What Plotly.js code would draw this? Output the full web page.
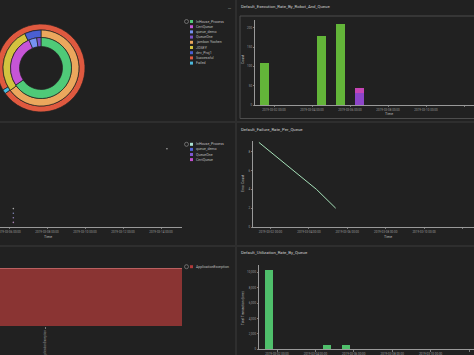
<!DOCTYPE html>
<html><head><meta charset="utf-8">
<script src="https://cdn.plot.ly/plotly-3.0.1.min.js"></script>
<style>
html,body{margin:0;padding:0;background:#212121;overflow:hidden;width:474px;height:355px;position:relative}
#chart{position:absolute;left:-20px;top:0;width:494px;height:355px}
</style>
</head><body><div id="chart"></div>
<script>
// ---------------- DATA ----------------
const pieQueueLabels = ['InHouse_Process','CertQueue','queue_demo','QueueOne'];
const pieQueueValues = [1310, 560, 83, 45];
const pieRobotLabels = ['jambon Yochen','JOSEY','dev_Proj1'];
const pieRobotValues = [1300, 560, 140];
const pieStatusLabels = ['Successful','Failed'];
const pieStatusValues = [1970, 30];

const scatterInHouseDates = ['2019-03-06 05:30','2019-03-14 07:30'];
const scatterInHouseValues = [20, 85];
const scatterQueueDemoDates = ['2019-03-06 05:30'];
const scatterQueueDemoValues = [15];
const scatterQueueOneDates = ['2019-03-06 05:30'];
const scatterQueueOneValues = [10];
const scatterCertQueueDates = ['2019-03-06 05:30'];
const scatterCertQueueValues = [5];

const exceptionCategories = ['System.ApplicationException'];
const exceptionCounts = [9];

const execInHouseDates = ['2019-03-01 12:00','2019-03-04 12:00','2019-03-05 12:00'];
const execInHouseValues = [110, 178, 210];
const execQueueOneDates = ['2019-03-06 12:00'];
const execQueueOneValues = [30];
const execCertQueueDates = ['2019-03-06 12:00'];
const execCertQueueValues = [15];

const failureDates = ['2019-03-01 09:30','2019-03-04 09:30','2019-03-05 09:30'];
const failureCounts = [9, 4, 2];

const utilDates = ['2019-03-01 14:00','2019-03-04 14:00','2019-03-05 14:00'];
const utilValues = [10250, 600, 600];

// ---------------- GEOMETRY HELPERS ----------------
const OX = 20, FW = 494, FH = 355;
const fx = p => (p + OX) / FW;
const fy = p => 1 - p / FH;
const DAY = 86400000;
function dRange(anchor, anchorPx, pxPerDay, leftPx, rightPx) {
  const t0 = Date.parse(anchor + 'T00:00:00Z');
  return [t0 + (leftPx - anchorPx) / pxPerDay * DAY, t0 + (rightPx - anchorPx) / pxPerDay * DAY];
}
const FONT = 'Roboto, "DejaVu Sans", sans-serif';
const tickFont = {family: FONT, size: 3, color: '#9c9c9c'};
function dateAxis(domain, range, anchor) {
  return {domain, range, anchor, type: 'date', tickformat: '%Y-%m-%d %H:%M', tick0: '2019-03-02', dtick: 2 * DAY,
    showgrid: false, zeroline: false, showline: true, linecolor: '#b8b8b8', linewidth: 0.8,
    ticks: 'outside', ticklen: 1.5, tickwidth: 0.6, tickcolor: '#b8b8b8', tickfont: tickFont,
    automargin: false, fixedrange: true};
}
function linAxis(domain, range, dtick, anchor, extra) {
  return Object.assign({domain, range, dtick, anchor, showgrid: false, zeroline: false, showline: true,
    linecolor: '#b8b8b8', linewidth: 0.8, ticks: 'outside', ticklen: 1.5, tickwidth: 0.6,
    tickcolor: '#b8b8b8', tickfont: tickFont, automargin: false, fixedrange: true}, extra || {});
}

// ---------------- TRACES ----------------
const pc = {cx: 41, cy: 68, r1: 44, r2: 38, r3: 30.5, hole: 21.5};
function pieDomain(r) { return {x: [fx(pc.cx - r), fx(pc.cx + r)], y: [fy(pc.cy + r), fy(pc.cy - r)]}; }
const pieLine = {color: '#212121', width: 0.7};
const traces = [
  {type: 'pie', labels: pieStatusLabels, values: pieStatusValues, domain: pieDomain(pc.r1), hole: pc.r2 / pc.r1,
   sort: false, direction: 'clockwise', rotation: 240, textinfo: 'none', hoverinfo: 'skip',
   marker: {colors: ['#df593f', '#4cb9dd'], line: pieLine}},
  {type: 'pie', labels: pieRobotLabels, values: pieRobotValues, domain: pieDomain(pc.r2), hole: pc.r3 / pc.r2,
   sort: false, direction: 'clockwise', rotation: 0, textinfo: 'none', hoverinfo: 'skip',
   marker: {colors: ['#eba75d', '#d3c33f', '#4a5fd2'], line: pieLine}},
  {type: 'pie', labels: pieQueueLabels, values: pieQueueValues, domain: pieDomain(pc.r3), hole: pc.hole / pc.r3,
   sort: false, direction: 'clockwise', rotation: 0, textinfo: 'none', hoverinfo: 'skip',
   marker: {colors: ['#4fca78', '#c655d6', '#7692f2', '#7a52c9'], line: pieLine}},

  {type: 'scatter', mode: 'markers', x: scatterInHouseDates, y: scatterInHouseValues, xaxis: 'x', yaxis: 'y',
   marker: {size: 1.6, color: '#a9a9a9'}},
  {type: 'scatter', mode: 'markers', x: scatterQueueDemoDates, y: scatterQueueDemoValues, xaxis: 'x', yaxis: 'y',
   marker: {size: 1.6, color: '#8088b8'}},
  {type: 'scatter', mode: 'markers', x: scatterQueueOneDates, y: scatterQueueOneValues, xaxis: 'x', yaxis: 'y',
   marker: {size: 1.6, color: '#9080b8'}},
  {type: 'scatter', mode: 'markers', x: scatterCertQueueDates, y: scatterCertQueueValues, xaxis: 'x', yaxis: 'y',
   marker: {size: 1.6, color: '#a880b0'}},

  {type: 'bar', x: exceptionCategories, y: exceptionCounts, xaxis: 'x2', yaxis: 'y2', width: 1.4,
   marker: {color: '#8a3433', line: {color: '#c46b6b', width: 0.8}}},

  {type: 'bar', x: execInHouseDates, y: execInHouseValues, xaxis: 'x3', yaxis: 'y3', width: 0.47 * DAY,
   marker: {color: '#63b539', line: {width: 0}}},
  {type: 'bar', x: execQueueOneDates, y: execQueueOneValues, xaxis: 'x3', yaxis: 'y3', width: 0.47 * DAY,
   marker: {color: '#8d45c9', line: {width: 0}}},
  {type: 'bar', x: execCertQueueDates, y: execCertQueueValues, xaxis: 'x3', yaxis: 'y3', width: 0.47 * DAY,
   marker: {color: '#c545b5', line: {width: 0}}},

  {type: 'scatter', mode: 'lines', x: failureDates, y: failureCounts, xaxis: 'x4', yaxis: 'y4',
   line: {color: '#a6e1b9', width: 1}},

  {type: 'bar', x: utilDates, y: utilValues, xaxis: 'x5', yaxis: 'y5', width: 0.42 * DAY,
   marker: {color: '#4fbf6b', line: {width: 0}}}
];

// ---------------- LAYOUT ----------------
const excTop = 262, excBottom = 326, excBarTop = 268;
const layout = {
  width: FW, height: FH, margin: {l: 0, r: 0, t: 0, b: 0, pad: 0},
  paper_bgcolor: '#212121', plot_bgcolor: 'rgba(0,0,0,0)',
  font: {family: FONT, size: 4, color: '#bdbdbd'},
  showlegend: false, barmode: 'stack', bargap: 0,
  xaxis: dateAxis([fx(-20), fx(182)], dRange('2019-03-06', 9, 19, -20, 182), 'y'),
  yaxis: {domain: [fy(227), fy(135)], range: [0, 100], anchor: 'x', visible: false, fixedrange: true},
  xaxis2: {domain: [fx(-20), fx(182)], range: [-(45 + 20) / 202, 1 - (45 + 20) / 202], type: 'category', anchor: 'y2',
    showline: false, showgrid: false, zeroline: false, ticks: 'outside', ticklen: 2, tickwidth: 0.6,
    tickcolor: '#b8b8b8', tickangle: -90, tickfont: tickFont, automargin: false, fixedrange: true},
  yaxis2: {domain: [fy(excBottom), fy(excTop)], range: [0, exceptionCounts[0] * (excBottom - excTop) / (excBottom - excBarTop)],
    anchor: 'x2', visible: false, fixedrange: true},
  xaxis3: dateAxis([fx(255), 1], dRange('2019-03-02', 274, 19, 255, 474), 'y3'),
  yaxis3: linAxis([fy(105), fy(20)], [0, 220], 50, 'x3'),
  xaxis4: dateAxis([fx(253), 1], dRange('2019-03-02', 270.5, 19.2, 253, 474), 'y4'),
  yaxis4: linAxis([fy(227), fy(141)], [0, 9.15], 2, 'x4'),
  xaxis5: dateAxis([fx(259), 1], dRange('2019-03-02', 277, 19.2, 259, 474), 'y5'),
  yaxis5: linAxis([fy(349.3), fy(265)], [0, 10950], 2000, 'x5', {tickformat: ','}),
  shapes: [],
  annotations: []
};

const S = layout.shapes, A = layout.annotations;
function hline(y, x0, x1, color, w) { S.push({type: 'line', xref: 'paper', yref: 'paper', x0: fx(x0), x1: fx(x1), y0: fy(y), y1: fy(y), line: {color, width: w}}); }
function vline(x, y0, y1, color, w) { S.push({type: 'line', xref: 'paper', yref: 'paper', x0: fx(x), x1: fx(x), y0: fy(y0), y1: fy(y1), line: {color, width: w}}); }
function text(x, y, t, size, color, opts) {
  A.push(Object.assign({xref: 'paper', yref: 'paper', x: fx(x), y: fy(y), text: t, showarrow: false,
    xanchor: 'left', yanchor: 'middle', borderpad: 0, font: {family: FONT, size, color}}, opts || {}));
}
// separators
hline(122, -20, 480, '#2e2e2e', 2);
hline(246, -20, 480, '#2e2e2e', 2);
vline(236, 0, 355, '#2e2e2e', 2);
// frame of top-right panel
S.push({type: 'rect', xref: 'paper', yref: 'paper', x0: fx(240), x1: fx(480), y0: fy(118.5), y1: fy(16),
  line: {color: '#4d4d4d', width: 1}});

// panel titles
text(240, 7, 'Default_Execution_Rate_By_Robot_And_Queue', 4.3, '#cfcfcf');
text(240, 130, 'Default_Failure_Rate_Per_Queue', 4.3, '#cfcfcf');
text(240, 252, 'Default_Utilization_Rate_By_Queue', 4.3, '#cfcfcf');
// axis titles
text(243, 60, 'Count', 3.4, '#bdbdbd', {xanchor: 'center', textangle: -90});
text(389, 114, 'Time', 3.6, '#bdbdbd', {xanchor: 'center'});
text(243, 184, 'Error Count', 3.4, '#bdbdbd', {xanchor: 'center', textangle: -90});
text(388, 237, 'Time', 3.6, '#bdbdbd', {xanchor: 'center'});
text(243, 308, 'Total Transaction (time)', 3.2, '#bdbdbd', {xanchor: 'center', textangle: -90});
text(48, 237, 'Time', 3.6, '#bdbdbd', {xanchor: 'center'});
// menu dots
text(229, 9, '•••', 3, '#9a9a9a', {xanchor: 'center'});

// legends
function legend(x, y0, step, names, colors, size) {
  S.push({type: 'circle', xref: 'paper', yref: 'paper', x0: fx(x - 2), x1: fx(x + 2), y0: fy(y0 + 2), y1: fy(y0 - 2),
    line: {color: '#9a9a9a', width: 0.6}});
  names.forEach((n, i) => {
    const y = y0 + i * step;
    S.push({type: 'rect', xref: 'paper', yref: 'paper', x0: fx(x + 3.5), x1: fx(x + 6.5), y0: fy(y + 1.5), y1: fy(y - 1.5),
      fillcolor: colors[i], line: {width: 0}});
    text(x + 8, y, n, size, '#bcbcbc');
  });
}
legend(186.5, 21.5, 5.2, pieQueueLabels.concat(pieRobotLabels, pieStatusLabels),
  ['#4fca78', '#c655d6', '#7692f2', '#7a52c9', '#eba75d', '#d3c33f', '#4a5fd2', '#df593f', '#4cb9dd'], 3.6);
legend(186.5, 144.3, 5.1, ['InHouse_Process', 'queue_demo', 'QueueOne', 'CertQueue'],
  ['#a9e3d2', '#4f63d8', '#7f55d0', '#c24fcf'], 3.6);
legend(186.5, 266.7, 5.1, ['ApplicationException'], ['#b03a3a'], 3.5);

Plotly.newPlot('chart', traces, layout, {staticPlot: true, displayModeBar: false});
</script>
</body></html>
